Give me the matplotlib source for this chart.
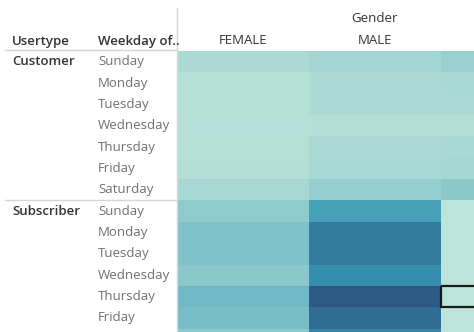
import numpy as np
import matplotlib
matplotlib.use("Agg")
import matplotlib.pyplot as plt
from matplotlib.colors import LinearSegmentedColormap
from matplotlib.lines import Line2D
from matplotlib.patches import Rectangle

plt.rcParams['font.family'] = ['Open Sans', 'DejaVu Sans']

# data: trip counts by user type, weekday and gender
usertypes = ["Customer", "Subscriber"]
weekdays = ["Sunday", "Monday", "Tuesday", "Wednesday", "Thursday", "Friday", "Saturday"]
genders = ["FEMALE", "MALE", "UNKNOWN"]

customer_female = [8400, 3600, 3600, 3000, 3600, 4200, 10200]
customer_male = [12000, 7200, 7200, 4200, 8400, 9000, 18600]
customer_unknown = [16800, 9000, 8400, 4800, 9000, 10800, 24000]
subscriber_female = [22800, 31200, 31200, 25200, 39600, 34800, 24000]
subscriber_male = [60000, 90000, 91200, 75600, 120000, 103200, 84000]
subscriber_unknown = [300, 400, 350, 320, 420, 380, 250]

# tableau blue-teal sequential palette
blue_teal = ['#bce4d8', '#aedcd5', '#a1d5d2', '#95cecf', '#89c8cc', '#7ec1ca',
             '#72bac6', '#66b2c2', '#59acbe', '#4ba5ba', '#419eb6', '#3b96b2',
             '#358ead', '#3586a7', '#347ea1', '#32779b', '#316f96', '#2f6790',
             '#2d608a', '#2c5985']
cmap = LinearSegmentedColormap.from_list("blue_teal", blue_teal)

grid = np.array([
    np.concatenate([customer_female, subscriber_female]),
    np.concatenate([customer_male, subscriber_male]),
    np.concatenate([customer_unknown, subscriber_unknown]),
]).T

W, H = 474, 332
fig = plt.figure(figsize=(W / 100, H / 100), dpi=100)

def fx(x):
    return x / W

def fy(y):
    return 1 - y / H

# layout in pixels
left, top = 177, 51
col_w, row_h = 132, 21.35
n_rows = grid.shape[0]

ax = fig.add_axes([fx(left), fy(top + n_rows * row_h),
                   3 * col_w / W, n_rows * row_h / H])
ax.pcolormesh(grid, cmap=cmap, vmin=0, vmax=grid.max())
ax.set_xlim(0, 3)
ax.set_ylim(n_rows, 0)
ax.axis("off")

# selected cell outline
sel = usertypes.index("Subscriber") * len(weekdays) + weekdays.index("Thursday")
ax.add_patch(Rectangle((2, sel), 1, 1, fill=False, edgecolor="#1a1a1a",
                       lw=1.6, clip_on=False))

# column headers (only the columns scrolled into view)
ax.text(1.5, -1.5, "Gender", ha="center", va="center", fontsize=9.5,
        color="#333333", clip_on=False)
for j, g in enumerate(genders):
    if left + (j + 0.5) * col_w > W:
        continue
    ax.text(j + 0.5, -0.47, g, ha="center", va="center", fontsize=9.5,
            color="#333333", clip_on=False)

# row headers
fig.text(fx(12), fy(41), "Usertype", ha="left", va="center", fontsize=9.5,
         color="#333333", fontweight="semibold")
fig.text(fx(98), fy(41), "Weekday of..", ha="left", va="center", fontsize=9.5,
         color="#333333", fontweight="semibold")

for k, u in enumerate(usertypes):
    base = k * len(weekdays)
    fig.text(fx(12), fy(top + (base + 0.5) * row_h), u, ha="left", va="center",
             fontsize=9.5, color="#333333", fontweight="semibold")
    for i, d in enumerate(weekdays):
        yc = top + (base + i + 0.5) * row_h
        if yc > H - 5:
            continue  # row scrolled below the view
        fig.text(fx(98), fy(yc), d, ha="left", va="center", fontsize=9.5,
                 color="#707070")

# divider lines
line_c = "#d6d6d6"
fig.add_artist(Line2D([fx(5), fx(left)], [fy(50), fy(50)], color=line_c, lw=1))
fig.add_artist(Line2D([fx(5), fx(left)], [fy(200), fy(200)], color=line_c, lw=1))
fig.add_artist(Line2D([fx(left), fx(left)], [fy(8), fy(H)], color=line_c, lw=1))

fig.savefig("out.png", dpi=100)
